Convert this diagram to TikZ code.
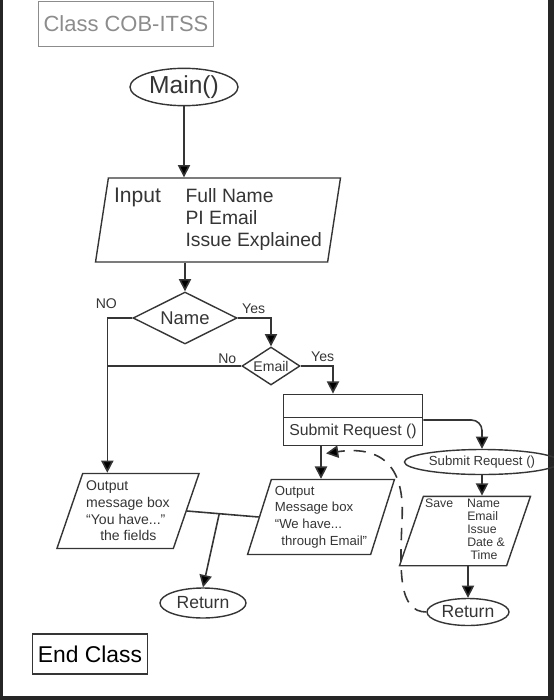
\documentclass[tikz,border=0pt]{standalone}
\usepackage{fontspec}
\setmainfont{Liberation Sans}
\usepackage{xcolor}
\usetikzlibrary{positioning,arrows.meta,shapes.geometric,shapes.multipart,calc}
\definecolor{pencil}{HTML}{353535}
\definecolor{lead}{HTML}{8C8C8C}
\tikzset{
  pen/.style={draw=pencil,line width=0.8pt},
  clsbox/.style={draw=lead,line width=0.7pt,text=lead,inner sep=3pt},
  endbox/.style={pen,inner sep=3pt},
  term/.style={pen,ellipse,inner sep=1pt,align=center,text=pencil},
  io/.style={pen,trapezium,trapezium stretches body,inner sep=2pt,align=left,text=pencil},
  decide/.style={pen,diamond,aspect=2,inner sep=0pt,text=pencil},
  arr/.style={-{Triangle[length=7pt,width=7pt]},draw=pencil,line width=0.9pt},
  link/.style={draw=pencil,line width=0.9pt},
  lbl/.style={font=\fontsize{8}{9}\selectfont,text=pencil,inner sep=1pt},
}

\begin{document}
\begin{tikzpicture}[x=0.02cm,y=-0.02cm]
\useasboundingbox (0,0) rectangle (554,700);
% dark edges of the scanned page
\fill[black!85] (0,0) rectangle (3,700);
\fill[black!85] (548,0) rectangle (554,700);
\fill[black!85] (0,696) rectangle (554,700);

\node[clsbox, minimum width=3.44cm, minimum height=0.9cm, font=\fontsize{12.5}{15}\selectfont] (cls) at (126,24) {Class COB-ITSS};
\node[term, minimum width=2.16cm, minimum height=0.56cm, font=\fontsize{14}{16}\selectfont] (main) at (184,87) {Main()};

\node[io, trapezium left angle=80, trapezium right angle=100, minimum width=4.9cm, minimum height=1.68cm, font=\fontsize{11}{12.5}\selectfont] (inp) at (218,220)
  {\begin{tabular}{@{}l@{\hspace{14pt}}l@{}}{\fontsize{12}{14}\selectfont Input} & Full Name\\ & PI Email\\ & Issue Explained\end{tabular}};

\node[decide, minimum width=2.08cm, minimum height=1.04cm, font=\fontsize{10.5}{13}\selectfont] (name) at (185,318) {Name};
\node[decide, minimum width=1.16cm, minimum height=0.76cm, font=\fontsize{8}{9}\selectfont] (email) at (271,366) {Email};

\node[pen, rectangle split, rectangle split parts=2, inner ysep=3.5pt, minimum width=2.74cm, text=pencil, font=\fontsize{9}{11}\selectfont] (sub) at (353,420) {\nodepart{two}Submit Request ()};
\node[term, minimum width=2.4cm, minimum height=0.5cm, font=\fontsize{7.5}{9}\selectfont] (subcall) at (482,462) {Submit Request ()};

\node[io, trapezium left angle=71, trapezium right angle=109, minimum width=2.3cm, minimum height=1.36cm, inner sep=1pt, font=\fontsize{7}{7.5}\selectfont] (save) at (465,531)
  {\begin{tabular}{@{}l@{\hspace{8pt}}l@{}}Save & Name\\ & Email\\ & Issue\\ & Date \&\\ & \ Time\end{tabular}};
\node[term, minimum width=1.64cm, minimum height=0.54cm, font=\fontsize{10}{12}\selectfont] (ret2) at (468,612) {Return};

\node[io, trapezium left angle=69, trapezium right angle=111, minimum width=2.66cm, minimum height=1.5cm, font=\fontsize{8}{9.5}\selectfont] (out1) at (128,511)
  {Output\\message box\\``You have...''\\\quad the fields};
\node[io, trapezium left angle=71, trapezium right angle=109, minimum width=2.74cm, minimum height=1.5cm, font=\fontsize{7.5}{9.5}\selectfont] (out2) at (321,517)
  {Output\\Message box\\``We have...\\\enspace through Email''};
\node[term, minimum width=1.72cm, minimum height=0.6cm, font=\fontsize{10}{12}\selectfont] (ret1) at (203,603) {Return};

\node[endbox, minimum width=2.12cm, minimum height=0.8cm, font=\fontsize{13}{15}\selectfont] (endc) at (90,654) {End Class};

% decision labels
\node[lbl] (noname) at ($(name.west)+(-26,-14)$) {NO};
\node[lbl] (yesname) at ($(name.east)+(16,-9)$) {Yes};
\node[lbl] (noemail) at ($(email.west)+(-14,-7)$) {No};
\node[lbl] (yesemail) at ($(email.east)+(22,-9)$) {Yes};

% flow
\draw[arr] (main.south) -- (main.south |- inp.north);
\draw[arr] (name.north |- inp.south) -- (name.north);
\draw[arr] (name.west) -- ++(-25,0) coordinate (nocorner) -- (nocorner |- out1.north);
\draw[link] (email.west) -- (email.west -| nocorner);
\draw[arr] (name.east) -| (email.north);
\draw[arr] (email.east) -| ($(sub.north)+(-20,0)$);
\draw[arr, rounded corners=6pt] (sub.east) -| (subcall.north);
\draw[arr] (out2.north |- sub.south) -- (out2.north);
\draw[arr] (subcall.south) -- (subcall.south |- save.north);
\draw[arr] (ret2.north |- save.south) -- (ret2.north);
\coordinate (back) at ($(out2.north |- sub.south)+(5,7)$);
\draw[arr, dashed, dash pattern=on 7pt off 5pt] (ret2.west) .. controls (398,612) and (400,570) .. (402,520) .. controls (406,455) and (370,447) .. (back);
\draw[link] (out1.east) -- (out2.west);
\coordinate (join) at ($(out1.east)!0.45!(out2.west)$);
\draw[arr] (join) -- (ret1.north);
\end{tikzpicture}
\end{document}
